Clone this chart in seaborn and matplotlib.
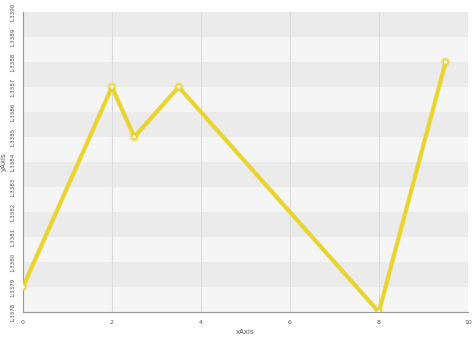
import numpy as np
import pandas as pd
import matplotlib
matplotlib.use("Agg")
import matplotlib.pyplot as plt
import seaborn as sns
from matplotlib.ticker import MultipleLocator
import matplotlib.patheffects as pe

x_vals = [0, 2, 2.5, 3.5, 8, 9.5]
y_vals = [1.3379, 1.3387, 1.3385, 1.3387, 1.3378, 1.3388]
x_ticks = [0, 2, 4, 6, 8, 10]
y_ticks = [1.3378, 1.3379, 1.3380, 1.3381, 1.3382, 1.3383, 1.3384,
           1.3385, 1.3386, 1.3387, 1.3388, 1.3389, 1.3390]

df = pd.DataFrame({"xAxis": x_vals, "yAxis": y_vals})

sns.set_style("white")
plt.rcParams['font.family'] = ['DejaVu Sans']

fig = plt.figure(figsize=(4.74, 3.38), dpi=100)
ax = fig.add_axes([0.0485, 0.077, 0.9385, 0.8875])

# alternating bands
for i in range(len(y_ticks) - 1):
    c = '#f5f5f5' if i % 2 == 0 else '#ebebeb'
    ax.axhspan(y_ticks[i], y_ticks[i + 1], color=c, zorder=0, lw=0)

for xt in x_ticks[1:-1]:
    ax.axvline(xt, color='#dcdcdc', lw=0.8, zorder=1)

sns.lineplot(data=df, x="xAxis", y="yAxis", ax=ax, color='#e8d42c', lw=2.6,
             marker='o', markersize=3.5, markerfacecolor='white',
             markeredgecolor='#e8d42c', markeredgewidth=1.0, zorder=3,
             path_effects=[pe.Stroke(linewidth=3.6, foreground='#e8d42c', alpha=0.35), pe.Normal()])

ax.set_xlim(0, 10)
ax.set_ylim(1.3378, 1.3390)
ax.set_xticks(x_ticks)
ax.set_yticks(y_ticks)
ax.xaxis.set_minor_locator(MultipleLocator(0.4))
ax.yaxis.set_minor_locator(MultipleLocator(0.00002))
ax.set_xticklabels([str(t) for t in x_ticks])
ax.set_yticklabels([f"{t:.4f}".replace('.', ',') for t in y_ticks])

ax.tick_params(axis='both', which='major', labelsize=4, colors='#888888',
               length=4, width=0.8, labelcolor='#555555', pad=2)
ax.tick_params(axis='x', which='major', labelsize=4.5)
ax.tick_params(axis='both', which='minor', length=2, width=0.5, colors='#999999')
ax.tick_params(axis='y', which='major', labelrotation=90)
for lab in ax.get_yticklabels():
    lab.set_va('center')

for s in ['top', 'right']:
    ax.spines[s].set_visible(False)
for s in ['left', 'bottom']:
    ax.spines[s].set_color('#999999')
    ax.spines[s].set_linewidth(0.8)

ax.set_xlabel("xAxis", fontsize=5, color='#555555', labelpad=3)
ax.set_ylabel("yAxis", fontsize=5, color='#555555')
ax.yaxis.set_label_coords(-0.036, 0.5)

fig.savefig("out.png", dpi=100)
